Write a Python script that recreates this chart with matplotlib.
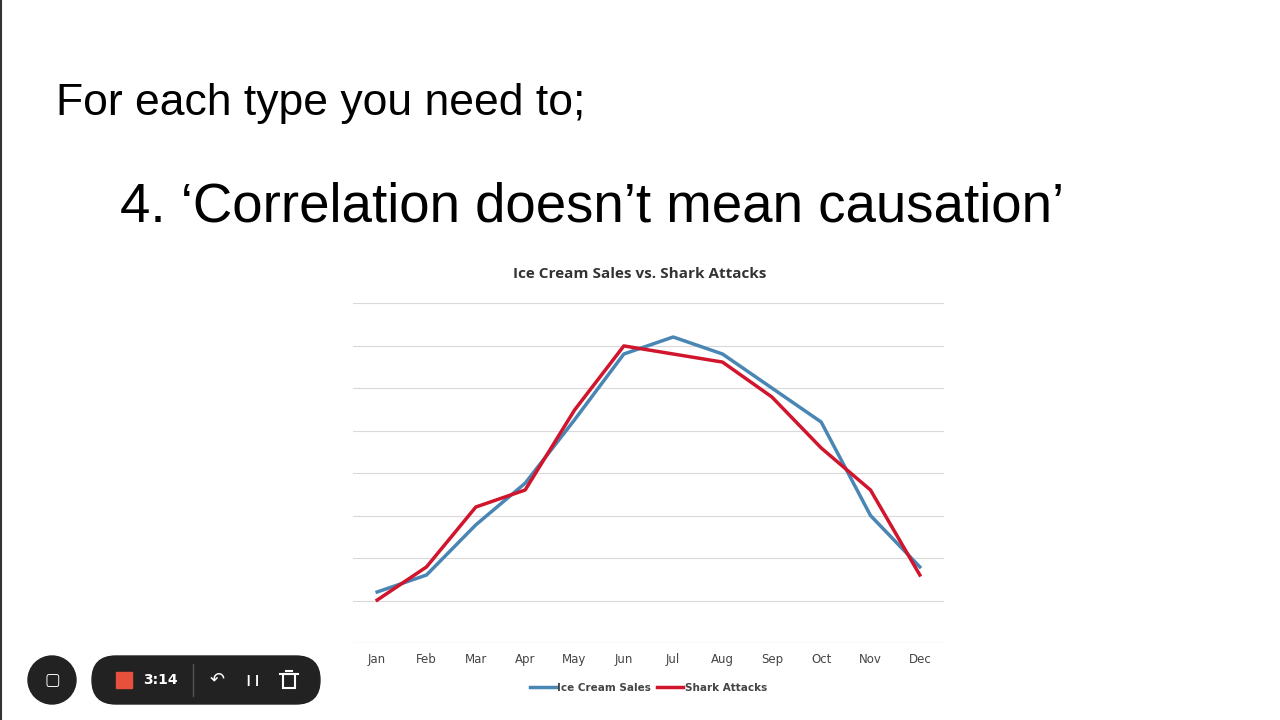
import matplotlib
matplotlib.use("Agg")
import matplotlib.pyplot as plt
from matplotlib.patches import FancyBboxPatch, Circle, Rectangle

months = ["Jan","Feb","Mar","Apr","May","Jun","Jul","Aug","Sep","Oct","Nov","Dec"]
ice_cream = [1.2, 1.6, 2.78, 3.76, 5.25, 6.8, 7.2, 6.8, 6.0, 5.2, 3.0, 1.79]
shark = [1.01, 1.79, 3.2, 3.6, 5.48, 6.99, 6.8, 6.61, 5.79, 4.59, 3.6, 1.6]

fig = plt.figure(figsize=(12.8, 7.2), dpi=100)
fig.text(56/1280, 1-103/720, "For each type you need to;", fontsize=32, family="Liberation Sans", va="center")
fig.text(120/1280, 1-208/720, "4. \u2018Correlation doesn\u2019t mean causation\u2019", fontsize=39.3, family="Liberation Sans", va="center")
fig.text(640/1280, 1-274/720, "Ice Cream Sales vs. Shark Attacks", fontsize=11, fontweight="bold", ha="center", va="center", color="#333333", family="Open Sans")

ax = fig.add_axes([353/1280, 77/720, 591/1280, 340/720])
x = range(len(months))
ax.plot(x, ice_cream, color="#4a86b4", lw=2.5, label="Ice Cream Sales")
ax.plot(x, shark, color="#d0152c", lw=2.5, label="Shark Attacks")
ax.set_xlim(-0.49, 11.49)
ax.set_ylim(0, 8)
ax.set_yticks(range(9))
ax.set_yticklabels([])
ax.tick_params(left=False, bottom=False)
ax.set_xticks(list(x))
ax.set_xticklabels(months, fontsize=8.5, color="#444444")
ax.grid(axis="y", color="#d9d9d9", lw=0.8)
for s in ax.spines.values():
    s.set_visible(False)
ax.axhline(0, color="#d9d9d9", lw=0.8)
leg = ax.legend(loc="upper center", bbox_to_anchor=(0.5, -0.09), ncol=2, frameon=False,
                fontsize=7.5, handlelength=2.5, columnspacing=0.6, handletextpad=0.1)
for t in leg.get_texts():
    t.set_fontweight("bold"); t.set_color("#444444")

# screen recorder widget
ov = fig.add_axes([0, 0, 1, 1], zorder=5); ov.set_xlim(0, 1280); ov.set_ylim(720, 0); ov.axis("off")
ov.add_patch(Circle((52, 680), 24, color="#222222"))
ov.text(52, 680, "\u25a2", color="white", ha="center", va="center", fontsize=12)
ov.add_patch(FancyBboxPatch((92, 656), 228, 48, boxstyle="round,pad=0,rounding_size=24", color="#222222"))
ov.add_patch(Rectangle((116, 672), 16, 16, color="#e8503e"))
ov.text(160, 680, "3:14", color="white", ha="center", va="center", fontsize=10, fontweight="bold")
ov.plot([193, 193], [664, 696], color="#555555", lw=1)
ov.text(217, 680, "\u21b6", color="white", ha="center", va="center", fontsize=13)
ov.text(253, 680, "\u2759\u2759", color="white", ha="center", va="center", fontsize=8)
ov.add_patch(Rectangle((283, 674), 12, 14, fill=False, ec="white", lw=1.5))
ov.plot([280, 298], [674, 674], color="white", lw=1.5)
ov.plot([286, 292], [671, 671], color="white", lw=1.5)
ov.plot([1, 1], [0, 720], color="#333333", lw=1.5)

fig.savefig("out.png", dpi=100)
